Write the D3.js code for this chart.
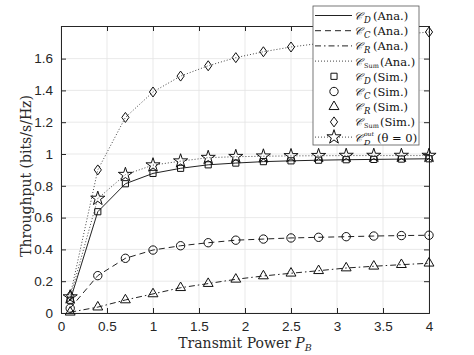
<!DOCTYPE html>
<html><head><meta charset="utf-8">
<script src="https://cdn.jsdelivr.net/npm/d3@7/dist/d3.min.js"></script>
<style>body{margin:0;background:#fff}svg{display:block}
.serif{font-family:'DejaVu Serif',serif}
</style>
</head><body><svg id="c" width="474" height="355"></svg>
<script>
const xs = [0.1,0.4,0.7,1.0,1.3,1.6,1.9,2.2,2.5,2.8,3.1,3.4,3.7,4.0];
const cD   = [0.08,0.637,0.813,0.878,0.91,0.932,0.943,0.952,0.957,0.961,0.964,0.966,0.968,0.970];
const cC   = [0.03,0.235,0.344,0.396,0.423,0.442,0.458,0.465,0.472,0.476,0.480,0.484,0.487,0.489];
const cR   = [0.005,0.037,0.082,0.12,0.159,0.185,0.212,0.233,0.25,0.266,0.283,0.294,0.304,0.313];
const cSum = [0.11,0.90,1.23,1.39,1.49,1.555,1.606,1.643,1.673,1.695,1.72,1.738,1.752,1.767];
const cOut = [0.10,0.72,0.87,0.93,0.955,0.977,0.983,0.986,0.988,0.989,0.99,0.99,0.99,0.99];
const xTicks = [0,0.5,1,1.5,2,2.5,3,3.5,4];
const yTicks = [0,0.2,0.4,0.6,0.8,1,1.2,1.4,1.6];

const svg = d3.select('#c');
const L=61,R=429,T=26,B=313;
const x = d3.scaleLinear().domain([0,4]).range([L,R]);
const y = d3.scaleLinear().domain([0,1.805]).range([B,T]);
const ink='#262626';

// grid
svg.append('g').selectAll('line').data(xTicks).join('line')
  .attr('x1',d=>x(d)).attr('x2',d=>x(d)).attr('y1',T).attr('y2',B)
  .attr('stroke','#e3e3e3').attr('stroke-width',0.8);
svg.append('g').selectAll('line').data(yTicks).join('line')
  .attr('y1',d=>y(d)).attr('y2',d=>y(d)).attr('x1',L).attr('x2',R)
  .attr('stroke','#e3e3e3').attr('stroke-width',0.8);

// axes
const tf = d=>d3.format('~g')(d);
const ax = (g)=>g.attr('font-family',"'Liberation Sans', Arial, sans-serif").attr('font-size',13.5);
svg.append('g').attr('transform',`translate(0,${B})`)
  .call(d3.axisBottom(x).tickValues(xTicks).tickSize(-5).tickPadding(8).tickFormat(tf)).call(ax);
svg.append('g').attr('transform',`translate(0,${T})`)
  .call(d3.axisTop(x).tickValues(xTicks).tickSize(-5).tickFormat('')).call(ax);
svg.append('g').attr('transform',`translate(${L},0)`)
  .call(d3.axisLeft(y).tickValues(yTicks).tickSize(-5).tickPadding(8).tickFormat(tf)).call(ax);
svg.append('g').attr('transform',`translate(${R},0)`)
  .call(d3.axisRight(y).tickValues(yTicks).tickSize(-5).tickFormat('')).call(ax);
svg.selectAll('.domain').attr('stroke',ink).attr('stroke-width',1);
svg.selectAll('.tick line').attr('stroke',ink);
svg.selectAll('.tick text').attr('fill','#262626');

// series
const line = d3.line().x((d,i)=>x(xs[i])).y(d=>y(d));
const series = [
  {v:cD, dash:null, col:'#222'},
  {v:cC, dash:'6,4', col:'#222'},
  {v:cR, dash:'6,3,1.5,3', col:'#222'},
  {v:cSum, dash:'1,2', col:'#444'},
  {v:cOut, dash:'1,2', col:'#444'}
];
svg.append('g').selectAll('path').data(series).join('path')
  .attr('d',d=>line(d.v)).attr('fill','none').attr('stroke',d=>d.col)
  .attr('stroke-width',1).attr('stroke-dasharray',d=>d.dash);

const diamond = 'M0,-5L3.6,0L0,5L-3.6,0Z';
const shapes = {
  sq: d3.symbol(d3.symbolSquare,38)(),
  ci: d3.symbol(d3.symbolCircle,55)(),
  tr: d3.symbol(d3.symbolTriangle,42)(),
  di: diamond,
  st: d3.symbol(d3.symbolStar,62)()
};
const mk = [[cD,'sq'],[cC,'ci'],[cR,'tr'],[cSum,'di'],[cOut,'st']];
mk.forEach(([v,s])=>{
  svg.append('g').selectAll('path').data(v).join('path')
    .attr('transform',(d,i)=>`translate(${x(xs[i])},${y(d)})`)
    .attr('d',shapes[s]).attr('fill','none').attr('stroke','#111').attr('stroke-width',1);
});

// labels
svg.append('text').attr('class','serif').attr('x',245).attr('y',348).attr('text-anchor','middle')
  .attr('font-size',14).attr('fill','#2a2a2a')
  .html('Transmit Power <tspan font-style="italic">P</tspan><tspan font-style="italic" font-size="9.5" dy="3">B</tspan>');
svg.append('text').attr('class','serif').attr('transform',`translate(31,176) rotate(-90)`).attr('text-anchor','middle')
  .attr('font-size',14).attr('fill','#2a2a2a')
  .text('Throughput (bits/s/Hz)');

// legend
const lg = svg.append('g');
lg.append('rect').attr('x',313).attr('y',6).attr('width',106).attr('height',139)
  .attr('fill','#fff').attr('stroke','#555').attr('stroke-width',0.8);
const entries = [
  {sub:'D',txt:'(Ana.)',dash:'',sym:null},
  {sub:'C',txt:'(Ana.)',dash:'6,4',sym:null},
  {sub:'R',txt:'(Ana.)',dash:'6,3,1.5,3',sym:null},
  {sub:'Sum',txt:'(Ana.)',dash:'1,2',sym:null,up:true},
  {sub:'D',txt:'(Sim.)',dash:null,sym:'sq'},
  {sub:'C',txt:'(Sim.)',dash:null,sym:'ci'},
  {sub:'R',txt:'(Sim.)',dash:null,sym:'tr'},
  {sub:'Sum',txt:'(Sim.)',dash:null,sym:'di',up:true},
  {sub:'D',sup:'out',txt:'(θ = 0)',dash:'1,2',sym:'st'}
];
entries.forEach((e,i)=>{
  const yy = 15.5 + i*15.2;
  if(e.dash!==null){
    lg.append('line').attr('x1',315).attr('x2',352).attr('y1',yy).attr('y2',yy)
      .attr('stroke',e.dash==='1,2'?'#444':'#222').attr('stroke-width',1)
      .attr('stroke-dasharray',e.dash||null);
  }
  if(e.sym){
    lg.append('path').attr('transform',`translate(334,${yy})`).attr('d',shapes[e.sym])
      .attr('fill',e.sym==='st'?'#fff':'none').attr('stroke','#111').attr('stroke-width',1);
  }
  const base = yy+4.5;
  lg.append('text').attr('class','serif').attr('x',354).attr('y',base)
    .attr('font-size',11).attr('font-style','italic').attr('fill','#111').text('𝒞');
  const sx = 364;
  if(e.sup){
    lg.append('text').attr('class','serif').attr('x',sx).attr('y',base-5.5)
      .attr('font-size',6).attr('font-style','italic').attr('fill','#111').text('out');
    lg.append('text').attr('class','serif').attr('x',sx).attr('y',base+3.5)
      .attr('font-size',8).attr('font-style','italic').attr('fill','#111').text('D');
  } else {
    lg.append('text').attr('class','serif').attr('x',sx).attr('y',base+(e.up?2:3))
      .attr('font-size',e.up?6.5:8.5).attr('font-style',e.up?'normal':'italic').attr('fill','#111').text(e.sub);
  }
  const tx = e.up ? 380 : (e.sup ? 377 : 373);
  lg.append('text').attr('class','serif').attr('x',tx).attr('y',base)
    .attr('font-size',11.5).attr('fill','#111').text(e.txt);
});
</script></body></html>
